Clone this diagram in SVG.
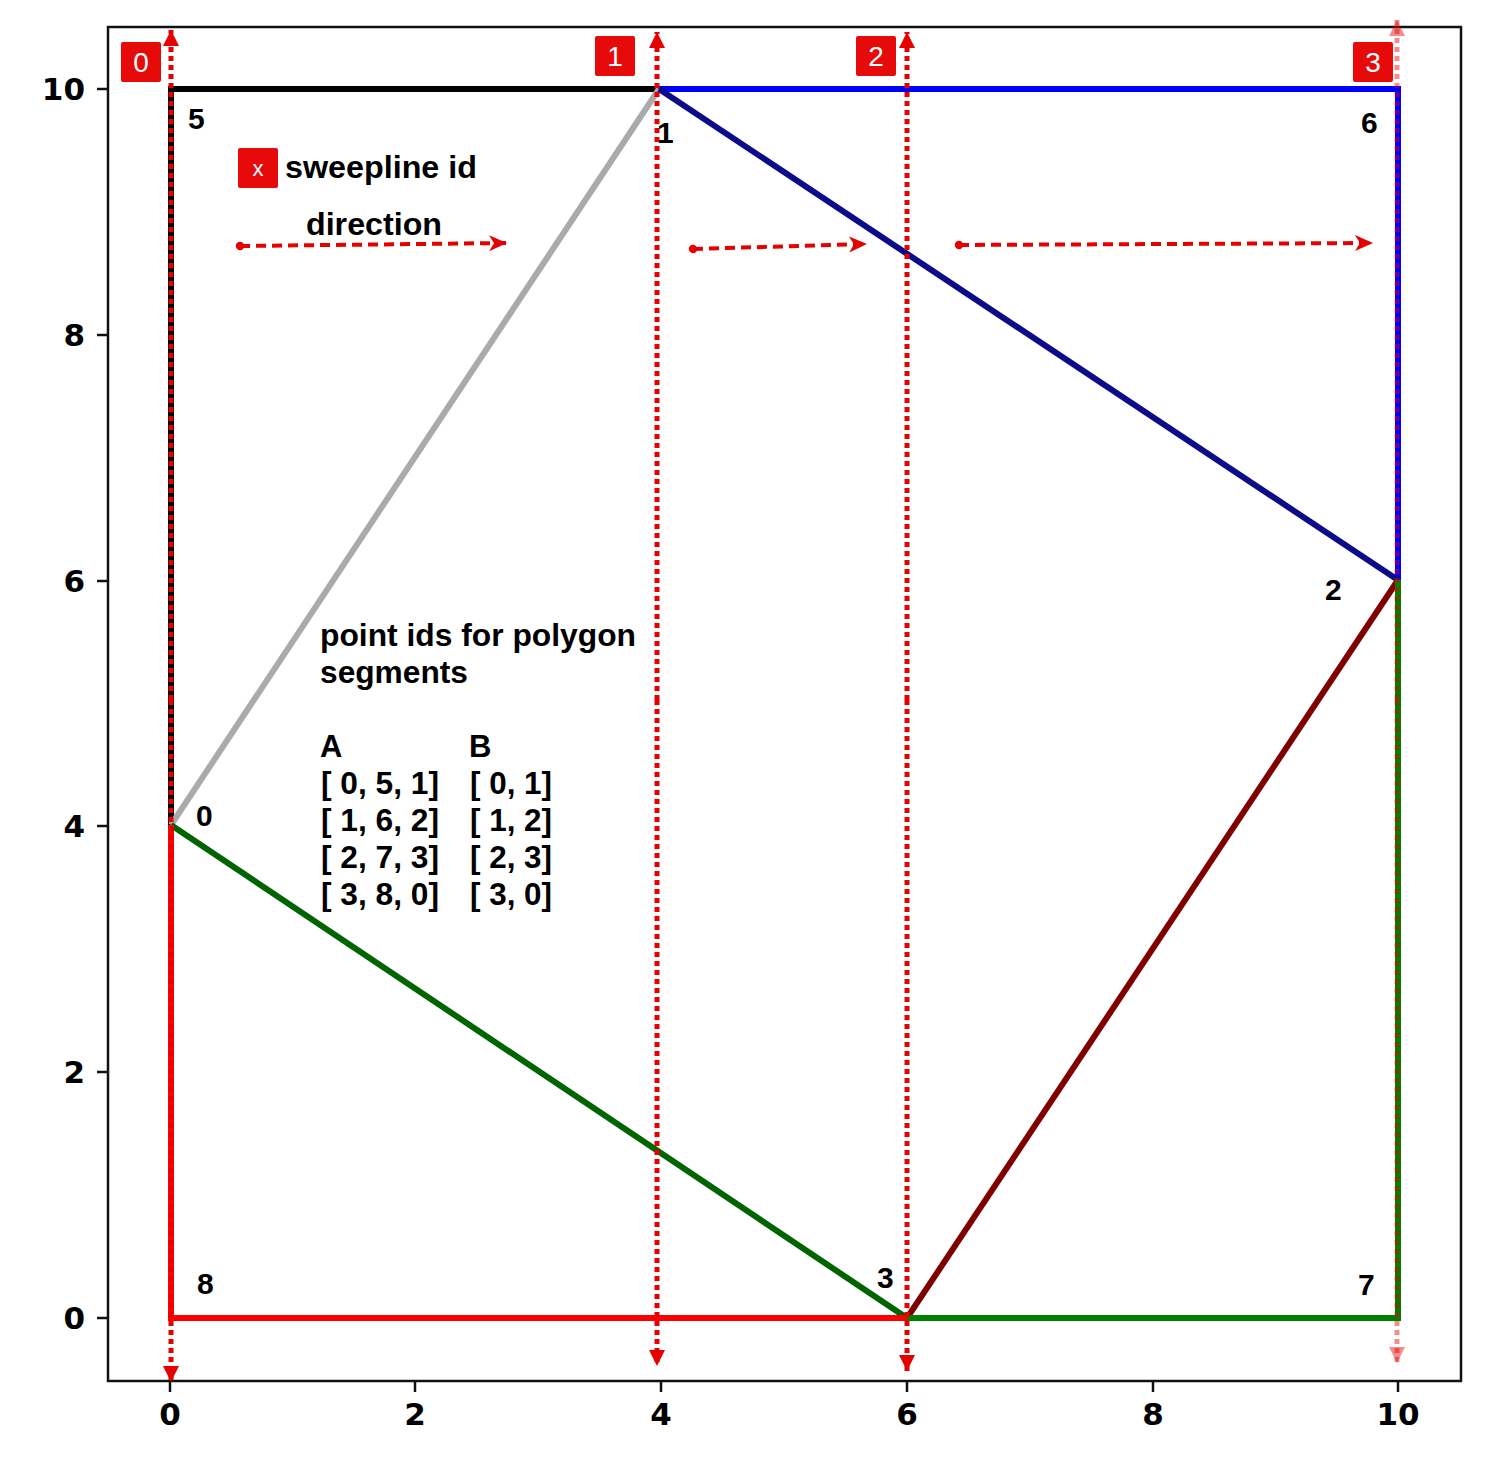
<svg xmlns="http://www.w3.org/2000/svg" width="1491" height="1462" viewBox="0 0 1491 1462">
  <defs>
    <style>
      .tick { stroke:#111; stroke-width:2.5; }
      .ticklbl { font-family:"DejaVu Sans", sans-serif; font-weight:bold; font-size:31px; fill:#000; }
      .edge { fill:none; stroke-width:6; stroke-linejoin:miter; stroke-linecap:butt; }
      .sweep { fill:none; stroke:#e60000; stroke-width:5; stroke-dasharray:5 4; }
      .sweep.pale { stroke-opacity:0.45; }
      .dir { fill:none; stroke:#e60000; stroke-width:4; stroke-dasharray:10 6; }
      .lbl { font-family:"Liberation Sans", Arial, sans-serif; font-weight:bold; font-size:30px; fill:#000; }
      .txt { font-family:"Liberation Sans", Arial, sans-serif; font-weight:bold; font-size:31px; fill:#000; }
      .box { fill:#e60a0a; }
      .boxtxt { font-family:"Liberation Sans", Arial, sans-serif; font-size:28px; fill:#fff; text-anchor:middle; }
    </style>
    <marker id="head" markerUnits="userSpaceOnUse" markerWidth="18" markerHeight="18" refX="16" refY="8" orient="auto">
      <path d="M0,0 L16,8 L0,16 Z" fill="#e60000"/>
    </marker>
    <marker id="headPale" markerUnits="userSpaceOnUse" markerWidth="18" markerHeight="18" refX="16" refY="8" orient="auto">
      <path d="M0,0 L16,8 L0,16 Z" fill="#e60000" fill-opacity="0.45"/>
    </marker>
    <marker id="dirHead" markerUnits="userSpaceOnUse" markerWidth="20" markerHeight="18" refX="18" refY="8" orient="auto">
      <path d="M0,0 L18,8 L0,16 L5,8 Z" fill="#e60000"/>
    </marker>
    <marker id="dirDot" markerUnits="userSpaceOnUse" markerWidth="10" markerHeight="10" refX="5" refY="5" orient="auto">
      <circle cx="5" cy="5" r="4.2" fill="#e60000"/>
    </marker>
  </defs>

  <rect width="1491" height="1462" fill="#fff"/>

  <!-- axes -->
  <g id="axes">
    <rect x="108" y="27" width="1353" height="1354" fill="none" stroke="#111" stroke-width="2.5"/>
    <g id="xticks">
      <line class="tick" x1="170" y1="1381" x2="170" y2="1392"/>
      <line class="tick" x1="415" y1="1381" x2="415" y2="1392"/>
      <line class="tick" x1="661" y1="1381" x2="661" y2="1392"/>
      <line class="tick" x1="907" y1="1381" x2="907" y2="1392"/>
      <line class="tick" x1="1153" y1="1381" x2="1153" y2="1392"/>
      <line class="tick" x1="1398" y1="1381" x2="1398" y2="1392"/>
      <text class="ticklbl" x="170" y="1425" text-anchor="middle">0</text>
      <text class="ticklbl" x="415" y="1425" text-anchor="middle">2</text>
      <text class="ticklbl" x="661" y="1425" text-anchor="middle">4</text>
      <text class="ticklbl" x="907" y="1425" text-anchor="middle">6</text>
      <text class="ticklbl" x="1153" y="1425" text-anchor="middle">8</text>
      <text class="ticklbl" x="1398" y="1425" text-anchor="middle">10</text>
    </g>
    <g id="yticks">
      <line class="tick" x1="97" y1="89" x2="108" y2="89"/>
      <line class="tick" x1="97" y1="335" x2="108" y2="335"/>
      <line class="tick" x1="97" y1="581" x2="108" y2="581"/>
      <line class="tick" x1="97" y1="826" x2="108" y2="826"/>
      <line class="tick" x1="97" y1="1072" x2="108" y2="1072"/>
      <line class="tick" x1="97" y1="1318" x2="108" y2="1318"/>
      <text class="ticklbl" x="85" y="100" text-anchor="end">10</text>
      <text class="ticklbl" x="85" y="346" text-anchor="end">8</text>
      <text class="ticklbl" x="85" y="592" text-anchor="end">6</text>
      <text class="ticklbl" x="85" y="837" text-anchor="end">4</text>
      <text class="ticklbl" x="85" y="1083" text-anchor="end">2</text>
      <text class="ticklbl" x="85" y="1329" text-anchor="end">0</text>
    </g>
  </g>

  <!-- polygon segments (connectors) -->
  <g id="connectors">
    <polyline id="e-5-1" class="edge" stroke="#000" points="171,825 171,89 659,89"/>
    <line id="e-0-1" class="edge" stroke="#aaaaaa" x1="171" y1="825" x2="659" y2="89"/>
    <polyline id="e-1-6-2" class="edge" stroke="#0000ff" points="659,89 1398,89 1398,580"/>
    <line id="e-1-2" class="edge" stroke="#0c0c8a" x1="659" y1="89" x2="1398" y2="580"/>
    <line id="e-2-3" class="edge" stroke="#800000" x1="907" y1="1318" x2="1398" y2="580"/>
    <polyline id="e-2-7-3" class="edge" stroke="#008000" points="1398,580 1398,1318 907,1318"/>
    <line id="e-3-0" class="edge" stroke="#006400" x1="907" y1="1318" x2="171" y2="825"/>
    <polyline id="e-3-8-0" class="edge" stroke="#ff0000" points="907,1318 171,1318 171,825"/>
  </g>

  <!-- sweeplines -->
  <g id="sweeplines">
    <g id="sweep0">
      <line class="sweep" x1="171" y1="700" x2="171" y2="30" marker-end="url(#head)"/>
      <line class="sweep" x1="171" y1="700" x2="171" y2="1382" marker-end="url(#head)"/>
      <rect class="box" x="121" y="42" width="40" height="40" rx="2"/>
      <text class="boxtxt" x="141" y="72">0</text>
    </g>
    <g id="sweep1">
      <line class="sweep" x1="657" y1="700" x2="657" y2="32" marker-end="url(#head)"/>
      <line class="sweep" x1="657" y1="700" x2="657" y2="1366" marker-end="url(#head)"/>
      <rect class="box" x="595" y="36" width="40" height="40" rx="2"/>
      <text class="boxtxt" x="615" y="66">1</text>
    </g>
    <g id="sweep2">
      <line class="sweep" x1="907" y1="700" x2="907" y2="32" marker-end="url(#head)"/>
      <line class="sweep" x1="907" y1="700" x2="907" y2="1371" marker-end="url(#head)"/>
      <rect class="box" x="856" y="36" width="40" height="40" rx="2"/>
      <text class="boxtxt" x="876" y="66">2</text>
    </g>
    <g id="sweep3">
      <line class="sweep pale" x1="1397" y1="700" x2="1397" y2="20" marker-end="url(#headPale)"/>
      <line class="sweep pale" x1="1397" y1="700" x2="1397" y2="1363" marker-end="url(#headPale)"/>
      <rect class="box" x="1353" y="42" width="40" height="40" rx="2"/>
      <text class="boxtxt" x="1373" y="72">3</text>
    </g>
  </g>

  <!-- direction arrows -->
  <g id="directions">
    <line class="dir" x1="240" y1="246" x2="507" y2="243" marker-start="url(#dirDot)" marker-end="url(#dirHead)"/>
    <line class="dir" x1="693" y1="249" x2="867" y2="244" marker-start="url(#dirDot)" marker-end="url(#dirHead)"/>
    <line class="dir" x1="959" y1="245" x2="1373" y2="243" marker-start="url(#dirDot)" marker-end="url(#dirHead)"/>
  </g>

  <!-- point labels -->
  <g id="points">
    <text id="p0" class="lbl" x="196" y="826">0</text>
    <text id="p1" class="lbl" x="657" y="143">1</text>
    <text id="p2" class="lbl" x="1325" y="600">2</text>
    <text id="p3" class="lbl" x="877" y="1288">3</text>
    <text id="p5" class="lbl" x="188" y="129">5</text>
    <text id="p6" class="lbl" x="1361" y="133">6</text>
    <text id="p7" class="lbl" x="1358" y="1295">7</text>
    <text id="p8" class="lbl" x="197" y="1294">8</text>
  </g>

  <!-- legend -->
  <g id="legend">
    <rect class="box" x="238" y="148" width="40" height="40" rx="2"/>
    <text class="boxtxt" x="258" y="176" style="font-size:22px">x</text>
    <text class="txt" x="285" y="178" textLength="192" lengthAdjust="spacingAndGlyphs">sweepline id</text>
    <text class="txt" x="306" y="235" textLength="136" lengthAdjust="spacingAndGlyphs">direction</text>
  </g>

  <!-- table -->
  <g id="table">
    <text class="txt" x="320" y="646" textLength="316" lengthAdjust="spacingAndGlyphs">point ids for polygon</text>
    <text class="txt" x="320" y="683" textLength="148" lengthAdjust="spacingAndGlyphs">segments</text>
    <text class="txt" x="320" y="757">A</text>
    <text class="txt" x="321" y="794" textLength="118" lengthAdjust="spacingAndGlyphs">[ 0, 5, 1]</text>
    <text class="txt" x="321" y="831" textLength="118" lengthAdjust="spacingAndGlyphs">[ 1, 6, 2]</text>
    <text class="txt" x="321" y="868" textLength="118" lengthAdjust="spacingAndGlyphs">[ 2, 7, 3]</text>
    <text class="txt" x="321" y="905" textLength="118" lengthAdjust="spacingAndGlyphs">[ 3, 8, 0]</text>
    <text class="txt" x="469" y="757">B</text>
    <text class="txt" x="470" y="794" textLength="82" lengthAdjust="spacingAndGlyphs">[ 0, 1]</text>
    <text class="txt" x="470" y="831" textLength="82" lengthAdjust="spacingAndGlyphs">[ 1, 2]</text>
    <text class="txt" x="470" y="868" textLength="82" lengthAdjust="spacingAndGlyphs">[ 2, 3]</text>
    <text class="txt" x="470" y="905" textLength="82" lengthAdjust="spacingAndGlyphs">[ 3, 0]</text>
  </g>
</svg>
